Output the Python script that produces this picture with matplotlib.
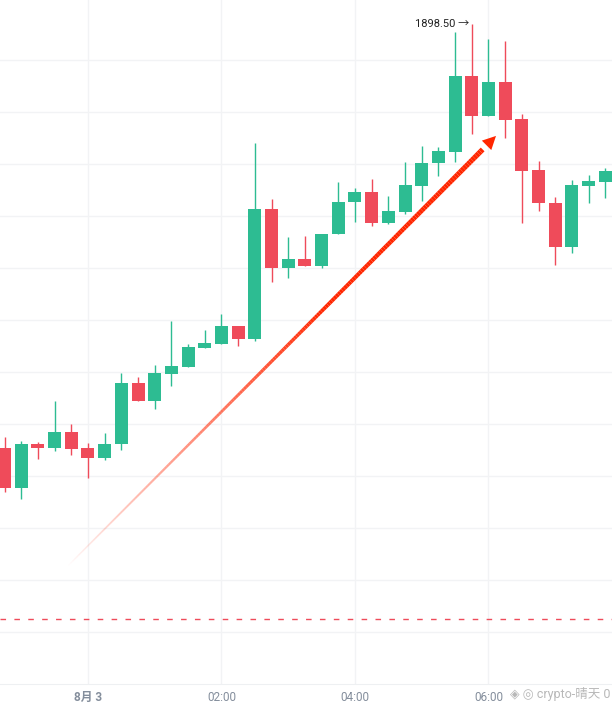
import numpy as np
import matplotlib
matplotlib.use('Agg')
import matplotlib.pyplot as plt
from matplotlib.collections import LineCollection

plt.rcParams['font.family'] = ['Roboto', 'Noto Sans CJK SC', 'DejaVu Sans']

# _____DATA____

# 15 minute candles, index 0 = 8月3 00:00
candle_index = list(range(-5, 32))
opens = [1857.66, 1853.88, 1858.05, 1857.72, 1859.23, 1857.66, 1856.76, 1858.05, 1863.91, 1862.24,
         1864.84, 1865.51, 1867.34, 1867.72, 1869.42, 1868.20, 1880.64, 1875.03, 1875.84, 1875.22,
         1878.27, 1881.32, 1882.31, 1879.36, 1880.41, 1882.93, 1885.05, 1886.18, 1893.46, 1889.64,
         1892.88, 1889.33, 1884.42, 1881.28, 1877.05, 1882.91, 1883.30]
highs = [1858.72, 1858.37, 1858.27, 1862.21, 1859.97, 1858.20, 1859.11, 1864.88, 1864.49, 1865.64,
         1869.93, 1867.66, 1869.04, 1870.58, 1869.42, 1886.99, 1881.61, 1877.98, 1878.08, 1878.27,
         1883.24, 1882.66, 1883.53, 1881.92, 1885.16, 1886.73, 1886.66, 1897.66, 1898.50, 1897.05,
         1896.86, 1889.78, 1885.29, 1881.86, 1883.46, 1883.94, 1884.64]
lows = [1853.49, 1852.79, 1856.63, 1857.43, 1857.02, 1854.84, 1856.54, 1857.50, 1862.24, 1861.47,
        1863.65, 1865.51, 1867.34, 1867.72, 1867.53, 1867.98, 1873.65, 1874.01, 1875.22, 1874.97,
        1878.27, 1879.45, 1879.04, 1879.20, 1880.19, 1881.44, 1883.88, 1885.22, 1887.86, 1889.64,
        1887.53, 1879.30, 1880.48, 1875.29, 1876.41, 1881.28, 1881.76]
closes = [1853.88, 1858.08, 1857.72, 1859.23, 1857.63, 1856.76, 1858.08, 1863.91, 1862.24, 1864.88,
          1865.58, 1867.38, 1867.79, 1869.42, 1868.20, 1880.64, 1875.03, 1875.84, 1875.22, 1878.27,
          1881.35, 1882.28, 1879.36, 1880.48, 1882.98, 1885.08, 1886.25, 1893.46, 1889.64, 1892.88,
          1889.26, 1884.36, 1881.22, 1877.05, 1882.98, 1883.37, 1884.33]

tick_index = [0, 8, 16, 24]
tick_labels = ['8月 3', '02:00', '04:00', '06:00']

price_line = 1841.25
arrow_start = [-1.3, 1846.2]
arrow_end = [24.45, 1887.7]

# _____STYLE____

UP = '#2dbc92'
DOWN = '#ef4b5a'
GRID = '#f2f3f5'
TICK = '#848e9c'

fig = plt.figure(figsize=(6.12, 7.11), dpi=100)
ax = fig.add_axes([0, 27 / 711, 1, 684 / 711])

# grid
for level in np.arange(1840, 1900, 5):
    ax.axhline(level, color=GRID, lw=1, zorder=0)
for t in tick_index:
    ax.axvline(t, color=GRID, lw=1, zorder=0)

# candles
for i, o, h, l, c in zip(candle_index, opens, highs, lows, closes):
    color = UP if c >= o else DOWN
    ax.vlines(i, l, h, color=color, lw=1, zorder=2)
    body = max(abs(c - o), 0.12)
    ax.bar(i, body, bottom=min(o, c), width=0.78, color=color, zorder=3, linewidth=0)

# dashed price line
ax.axhline(price_line, color=DOWN, lw=1, ls=(0, (4, 6)), zorder=1)

# high marker
top = int(np.argmax(highs))
ax.annotate('{:.2f} →'.format(highs[top]), xy=(candle_index[top], highs[top]), xytext=(-2, 0),
            textcoords='offset points', ha='right', va='center', fontsize=8, color='#222222')

# gradient arrow
n = 200
xs = np.linspace(arrow_start[0], arrow_end[0] - 0.8, n)
ys = np.linspace(arrow_start[1], arrow_end[1] - 1.3, n)
segs = np.stack([np.column_stack([xs[:-1], ys[:-1]]), np.column_stack([xs[1:], ys[1:]])], axis=1)
alpha = np.clip(np.linspace(0.0, 1.6, n - 1), 0, 1) ** 0.9
colors = np.zeros((n - 1, 4))
colors[:, 0] = 1.0
colors[:, 1] = 0.15
colors[:, 2] = 0.0
colors[:, 3] = alpha
widths = np.linspace(1.0, 3.8, n - 1)
ax.add_collection(LineCollection(segs, colors=colors, linewidths=widths, capstyle='butt', zorder=4))
ax.annotate('', xy=(arrow_end[0], arrow_end[1]), xytext=(arrow_end[0] - 1.0, arrow_end[1] - 1.6),
            arrowprops=dict(arrowstyle='-|>', mutation_scale=24, color='#ff2600', lw=0,
                            shrinkA=0, shrinkB=0), zorder=5)

# axes
ax.set_xlim(-5.27, 31.4)
ax.set_ylim(1835.0, 1900.77)
ax.set_yticks([])
ax.set_xticks(tick_index)
ax.set_xticklabels(tick_labels, fontsize=8.5, color=TICK)
ax.get_xticklabels()[0].set_fontweight('bold')
ax.tick_params(axis='x', length=0, pad=5)
for side in ['top', 'left', 'right']:
    ax.spines[side].set_visible(False)
ax.spines['bottom'].set_color('#eef0f2')

# watermark
fig.text(510 / 612, 1 - 694 / 711, '◈ ◎ crypto-晴天 0', fontsize=9, color='#b8b8b8', va='center',
         family=['Roboto', 'DejaVu Sans', 'Noto Sans CJK SC'])

fig.savefig('out.png', dpi=100)
